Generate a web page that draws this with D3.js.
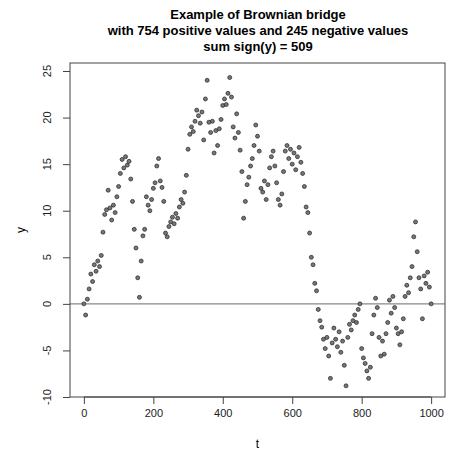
<!DOCTYPE html><html><head><meta charset="utf-8"><script src="https://cdn.jsdelivr.net/npm/d3@7"></script>
<style>body{margin:0;background:#fff}text{font-family:"Liberation Sans",Arial,sans-serif}</style></head><body><svg id="c" width="474" height="460"></svg><script>
const tStep=5;
const yValues=[0,-1.2,0.5,1.6,3.2,2.4,4.2,3.5,4.6,4.0,5.2,7.7,9.6,10.1,12.2,10.3,9.0,10.6,9.8,11.5,12.6,14.0,15.5,14.6,15.8,14.9,15.3,13.4,11.0,8.0,6.0,2.8,0.7,4.6,7.3,8.0,11.5,10.6,10.0,11.2,12.4,13.0,14.8,15.6,13.2,12.5,11.0,7.6,7.2,8.3,8.8,9.3,8.6,9.7,9.2,10.4,11.2,10.8,12.0,13.8,16.6,18.2,19.0,18.5,19.6,20.8,20.2,19.4,20.6,17.6,22.0,24.0,19.5,18.4,19.6,16.2,18.6,17.0,18.8,19.8,21.3,22.0,21.4,22.6,24.3,22.2,19.0,17.8,20.4,18.4,16.5,14.2,9.2,11.0,12.8,13.6,14.8,15.6,17.0,19.2,18.0,16.4,12.4,12.0,13.2,11.2,12.8,14.6,15.8,16.4,14.8,13.0,11.2,10.6,11.8,14.2,16.4,17.0,15.6,16.6,15.0,16.2,14.4,15.8,16.8,15.2,14.0,12.6,10.4,9.8,7.6,5.0,4.2,2.2,1.4,-0.6,-1.8,-2.5,-3.8,-4.8,-3.6,-5.6,-8.0,-4.2,-2.6,-3.8,-4.6,-3.0,-5.2,-4.0,-6.6,-8.8,-3.6,-2.2,-2.8,-1.8,-1.2,-2.0,-0.6,0.0,-4.8,-5.8,-6.4,-7.2,-8.0,-6.8,-3.2,-1.2,0.6,-0.4,-3.6,-5.6,-4.0,-5.4,-3.2,-2.0,0.4,-1.0,0.8,-0.4,-2.6,-3.2,-4.4,-3.0,-1.6,0.8,2.0,1.2,2.8,4.0,7.2,8.8,5.6,2.8,1.6,-1.6,3.0,2.2,3.4,1.8,0.0];
const xTicks=[0,200,400,600,800,1000];
const yTicks=[-10,-5,0,5,10,15,20,25];
const titleLines=["Example of Brownian bridge","with 754 positive values and 245 negative values","sum sign(y) = 509"];
const svg=d3.select("#c");
const L=70,R=445,T=63,B=397;
const x=d3.scaleLinear().domain([-40,1040]).range([L,R]);
const y=d3.scaleLinear().domain([-10,25.86]).range([B,T]);
svg.append("line").attr("x1",L).attr("x2",R).attr("y1",y(0)).attr("y2",y(0)).attr("stroke","#888").attr("stroke-width",1.3);
svg.append("g").selectAll("circle").data(yValues).join("circle")
 .attr("cx",(d,i)=>x(i*tStep)).attr("cy",d=>y(d)).attr("r",2)
 .attr("fill","#777").attr("stroke","#222").attr("stroke-width",0.7);
svg.append("rect").attr("x",L).attr("y",T).attr("width",R-L).attr("height",B-T).attr("fill","none").attr("stroke","#444");
const xa=svg.append("g").attr("transform",`translate(0,${B})`).call(d3.axisBottom(x).tickValues(xTicks).tickFormat(d3.format("d")).tickSize(7).tickPadding(5));
const ya=svg.append("g").attr("transform",`translate(${L},0)`).call(d3.axisLeft(y).tickValues(yTicks).tickFormat("").tickSize(7));
[xa,ya].forEach(a=>{a.select(".domain").remove();a.selectAll("line").attr("stroke","#444");a.selectAll("text").attr("font-size",11).attr("fill","#222");});
svg.append("line").attr("x1",x(0)).attr("x2",x(1000)).attr("y1",B).attr("y2",B).attr("stroke","#444");
svg.append("g").selectAll("text").data(yTicks).join("text")
 .attr("transform",d=>`translate(51,${y(d)}) rotate(-90)`).attr("text-anchor","middle")
 .attr("font-size",11).attr("fill","#222").text(d=>d);
svg.append("text").attr("x",(L+R)/2).attr("y",448).attr("text-anchor","middle").attr("font-size",12).text("t");
svg.append("text").attr("transform","translate(25,230) rotate(-90)").attr("text-anchor","middle").attr("font-size",12).text("y");
titleLines.forEach((s,i)=>svg.append("text").attr("x",258).attr("y",19+i*16).attr("text-anchor","middle").attr("font-size",13).attr("font-weight","bold").text(s));
</script></body></html>
